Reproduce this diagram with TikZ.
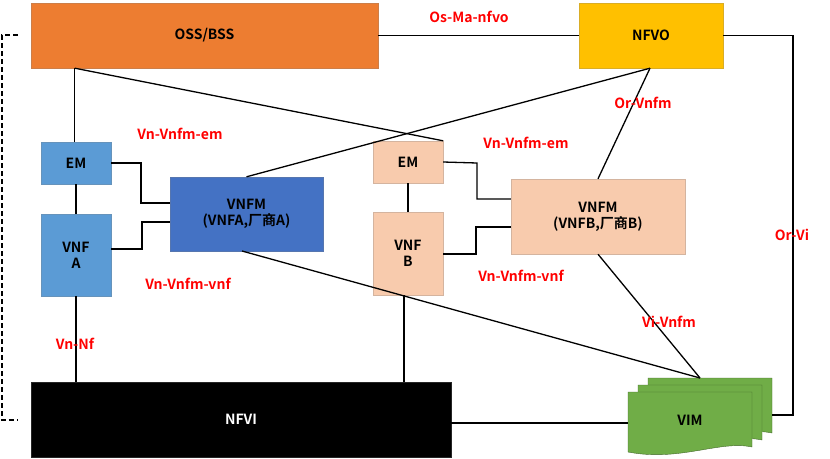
\documentclass[tikz,border=0pt]{standalone}
\usepackage{fontspec}
\setmainfont{Noto Sans CJK SC}[BoldFont={* Bold}]
\begin{document}
\begin{tikzpicture}[x=1pt,y=-1pt,
  box/.style={draw=#1!70!gray,minimum width=0pt,minimum height=0pt,inner sep=0pt,align=center,font=\bfseries\fontsize{14}{16}\selectfont},
  lbl/.style={text=red,font=\bfseries\fontsize{14}{16}\selectfont,inner sep=1pt},
  ln/.style={draw=black,line width=1.3pt}]
\useasboundingbox (0,0) rectangle (830,458);
\definecolor{cor}{HTML}{ED7D31}\definecolor{cyl}{HTML}{FFC000}
\definecolor{lb}{HTML}{5B9BD5}\definecolor{db}{HTML}{4472C4}
\definecolor{pk}{HTML}{F8CBAD}\definecolor{gr}{HTML}{70AD47}
\node[box=cor,fill=cor,minimum width=347,minimum height=65] (oss) at (204.5,35.5) {OSS/BSS};
\node[box=cyl,fill=cyl,minimum width=144,minimum height=65] (nfvo) at (651,35.5) {NFVO};
\node[box=lb,fill=lb,minimum width=70,minimum height=42] (ema) at (76,163) {EM};
\node[box=lb,fill=lb,minimum width=70,minimum height=82] (vnfa) at (76,255) {VNF\\A};
\node[box=db,fill=db,minimum width=153,minimum height=74] (vnfma) at (246.5,214) {VNFM\\(VNFA,厂商A)};
\node[box=pk,fill=pk,minimum width=70,minimum height=42] (emb) at (408,162) {EM};
\node[box=pk,fill=pk,minimum width=70,minimum height=83] (vnfb) at (408,253.5) {VNF\\B};
\node[box=pk,fill=pk,minimum width=174,minimum height=75] (vnfmb) at (598,216.5) {VNFM\\(VNFB,厂商B)};
\node[box=black,fill=black,text=white,minimum width=420,minimum height=75] (nfvi) at (241,419.5) {NFVI};
% VIM stacked documents
\foreach \dx/\dy in {20/-14,10/-7}{
  \fill[gr,draw=gr!60!black,line width=0.4pt,shift={(\dx,\dy)}] (628,392) -- (752,392) -- (752,447) .. controls (720,440) and (680,462) .. (628,452) -- cycle;}
\fill[gr,draw=gr!60!black,line width=0.4pt] (628,392) -- (752,392) -- (752,447) .. controls (720,440) and (680,462) .. (628,452) -- cycle;
\node[font=\bfseries\fontsize{14}{16}\selectfont,minimum width=124,minimum height=60,inner sep=0pt] (vim) at (690,420) {VIM};
\coordinate (vimtop) at (700,378);
% connectors
\draw[ln] (oss.south west) ++(44,0) coordinate (o1) -- (ema.north -| o1);
\draw[ln] (o1) -- (emb.north east);
\draw[ln] (oss.east) -- (nfvo.west);
\draw[ln] (nfvo.south) ++(-1,0) coordinate (n1) -- (vnfma.north);
\draw[ln] (n1) -- (vnfmb.north);
\draw[ln] (nfvo.east) -- (793,35.5) -- (793,415) -- (772,415);
\draw[ln] (ema.east) -- (141,163) -- (141,203) -- (vnfma.west |- 0,203);
\draw[ln] (vnfa.east |- 0,249) -- (142,249) -- (142,222) -- (vnfma.west |- 0,222);
\draw[ln] (emb.east) -- (477,163) -- (477,199) -- (vnfmb.west |- 0,199);
\draw[ln] (vnfb.east |- 0,254) -- (476,254) -- (476,227) -- (vnfmb.west |- 0,227);
\draw[ln] (ema) -- (vnfa);
\draw[ln] (emb) -- (vnfb);
\draw[ln] (vnfa.south) -- (nfvi.north -| vnfa.south);
\draw[ln] (404,295) -- (nfvi.north -| 404,0);
\draw[ln] (242,251) -- (vimtop);
\draw[ln] (vnfmb.south) -- (vimtop);
\draw[ln] (nfvi.east |- 0,423) -- (628,423);
\draw[line width=1.3pt,dash pattern=on 5pt off 3pt] (18,35) -- (2,35) -- (2,420) -- (18,420);
% labels
\node[lbl] (l1) at (469,17) {Os-Ma-nfvo};
\node[lbl] (l2) at (643,103) {Or-Vnfm};
\node[lbl] (l3) at (180,134) {Vn-Vnfm-em};
\node[lbl] (l4) at (526,143) {Vn-Vnfm-em};
\node[lbl] (l5) at (188,284) {Vn-Vnfm-vnf};
\node[lbl] (l6) at (521,276) {Vn-Vnfm-vnf};
\node[lbl] (l7) at (669,322) {Vi-Vnfm};
\node[lbl] (l8) at (792,235) {Or-Vi};
\node[lbl] (l9) at (75,344) {Vn-Nf};
\end{tikzpicture}
\end{document}
